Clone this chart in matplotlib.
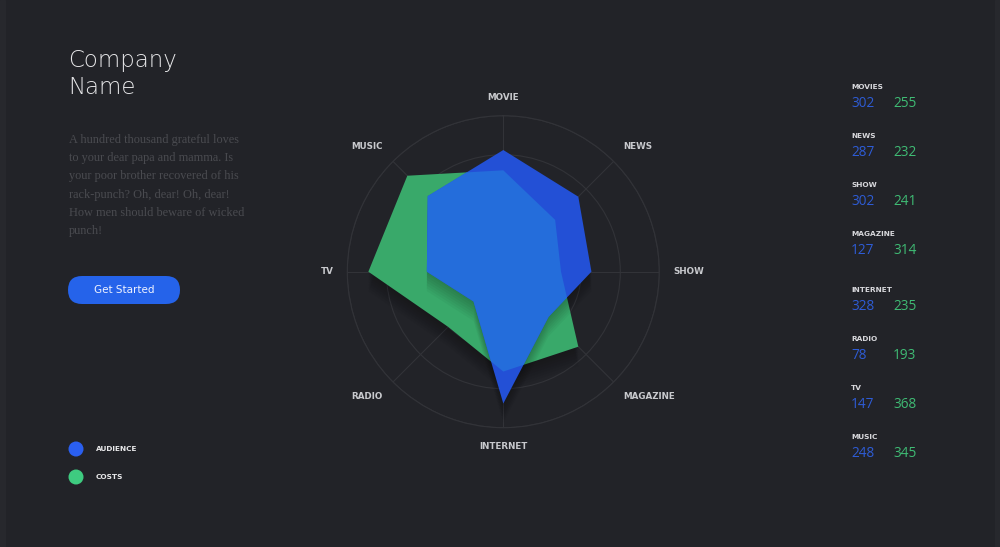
import numpy as np
import matplotlib
matplotlib.use("Agg")
import matplotlib.pyplot as plt
from matplotlib.patches import FancyBboxPatch, Circle, Rectangle
import matplotlib.patheffects as pe

# ---------------- data ----------------
categories = ["MOVIE", "NEWS", "SHOW", "MAGAZINE", "INTERNET", "RADIO", "TV", "MUSIC"]
# radar shape as drawn (outer ring = 400)
audience_radar = [312, 272, 226, 164, 338, 108, 196, 274]
costs_radar = [260, 188, 148, 272, 256, 200, 346, 348]
radar_max = 400
radar_rings = [100, 200, 300, 400]

panel_labels = ["MOVIES", "NEWS", "SHOW", "MAGAZINE", "INTERNET", "RADIO", "TV", "MUSIC"]
audience_values = [302, 287, 302, 127, 328, 78, 147, 248]
costs_values = [255, 232, 241, 314, 235, 193, 368, 345]

series_names = ["AUDIENCE", "COSTS"]
title_lines = ["Company", "Name"]
paragraph = ["A hundred thousand grateful loves",
             "to your dear papa and mamma. Is",
             "your poor brother recovered of his",
             "rack-punch? Oh, dear! Oh, dear!",
             "How men should beware of wicked",
             "punch!"]
button_text = "Get Started"

# ---------------- style ----------------
BG = "#222328"
EDGE = "#27282d"
GRID = "#323338"
BLUE_DARK = "#2350d6"
BLUE_LIGHT = "#246ddb"
GREEN = "#39a96a"
LEG_BLUE = "#2a5ff0"
LEG_GREEN = "#3ecb80"
NUM_BLUE = "#2e5cd6"
NUM_GREEN = "#3fbb74"
LABEL = "#c8c9cd"

W, H = 1000, 547
fig = plt.figure(figsize=(W / 100, H / 100), dpi=100, facecolor=BG)


def fx(x):
    return x / W


def fy(y):
    return 1 - y / H


# frame edges of the mockup
fig.patches.append(Rectangle((0, 0), fx(5), 1, transform=fig.transFigure, color=EDGE, zorder=0))
fig.patches.append(Rectangle((fx(995), 0), fx(5), 1, transform=fig.transFigure, color=EDGE, zorder=0))

# ---------------- radar ----------------
cx, cy, R = 503.3, 271.7, 156
ax = fig.add_axes([fx(cx - R), fy(cy + R), 2 * R / W, 2 * R / H], projection="polar")
ax.set_facecolor("none")
ax.set_theta_zero_location("N")
ax.set_theta_direction(-1)
n = len(categories)
theta = np.arange(n) * 2 * np.pi / n
ax.set_ylim(0, radar_max)
ax.set_rgrids(radar_rings, labels=[""] * len(radar_rings))
ax.set_thetagrids(np.degrees(theta), labels=[""] * n)
ax.grid(True, color=GRID, lw=0.8)
ax.spines["polar"].set_color(GRID)
ax.spines["polar"].set_linewidth(0.8)
ax.tick_params(length=0)

th_c = np.append(theta, theta[0])
aud_c = np.append(audience_radar, audience_radar[0])
cost_c = np.append(costs_radar, costs_radar[0])

shadow = [pe.SimplePatchShadow(offset=(0, -d), shadow_rgbFace="black", alpha=0.035)
          for d in (2, 4, 6, 8, 10, 12, 14)] + [pe.Normal()]

cost_patch = ax.fill(th_c, cost_c, color=GREEN, lw=0, zorder=3)[0]
aud_patch = ax.fill(th_c, aud_c, color=BLUE_DARK, lw=0, zorder=4)[0]
cost_patch.set_path_effects(shadow)
aud_patch.set_path_effects(shadow)
overlap = ax.fill(th_c, aud_c, color=BLUE_LIGHT, lw=0, zorder=5)[0]
overlap.set_clip_path(cost_patch)

label_r = radar_max * 1.09
for t, lab in zip(theta, categories):
    s, c = np.sin(t), np.cos(t)
    ha = "left" if s > 0.1 else ("right" if s < -0.1 else "center")
    va = "bottom" if c > 0.1 else ("top" if c < -0.1 else "center")
    ax.text(t, label_r, lab, ha=ha, va=va, fontsize=6.3, fontweight="bold",
            color=LABEL, family="DejaVu Sans")

# ---------------- left column ----------------
for i, line in enumerate(title_lines):
    fig.text(fx(68), fy(61 + 27 * i), line, fontsize=16.5, color="#e6e6e8",
             family="DejaVu Sans", fontweight="light", va="center", ha="left")

for i, line in enumerate(paragraph):
    fig.text(fx(69), fy(140 + 18.2 * i), line, fontsize=8.8, color="#4a4b50",
             family="Liberation Serif", va="center", ha="left")

# pill button drawn in a pixel-aspect axes
bax = fig.add_axes([fx(68), fy(304), fx(112), 28 / H])
bax.set_xlim(0, 112)
bax.set_ylim(0, 28)
bax.axis("off")
bax.add_patch(FancyBboxPatch((0, 0), 112, 28, boxstyle="round,pad=0,rounding_size=14",
                             color="#2563ea", lw=0))
bax.text(56, 14, button_text, ha="center", va="center", color="#eef2ff", fontsize=7.5,
         family="DejaVu Sans")

# overlay axes in pixel coordinates
lax = fig.add_axes([0, 0, 1, 1], facecolor="none")
lax.set_xlim(0, W)
lax.set_ylim(H, 0)
lax.axis("off")

# legend
for i, (name, col) in enumerate(zip(series_names, [LEG_BLUE, LEG_GREEN])):
    y = 449 + 28 * i
    lax.add_patch(Circle((76, y), 7.5, color=col, lw=0))
    lax.text(96, y, name, ha="left", va="center", fontsize=5.3, fontweight="bold",
             color="#e8e8ea", family="DejaVu Sans")

# ---------------- right panel ----------------
for i, (lab, a, c) in enumerate(zip(panel_labels, audience_values, costs_values)):
    y0 = 87 + 49 * i + (7 if i >= 4 else 0)
    lax.text(851, y0, lab, ha="left", va="center", fontsize=5.3, fontweight="bold",
             color="#d8d8dc", family="DejaVu Sans")
    lax.text(851, y0 + 16.5, str(a), ha="left", va="center", fontsize=9.8,
             color=NUM_BLUE, family="Open Sans")
    lax.text(893, y0 + 16.5, str(c), ha="left", va="center", fontsize=9.8,
             color=NUM_GREEN, family="Open Sans")

fig.savefig("out.png", dpi=100, facecolor=BG)
